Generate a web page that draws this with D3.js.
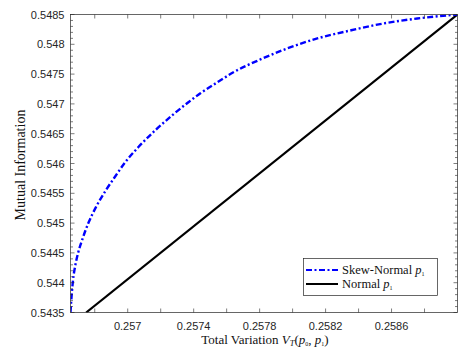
<!DOCTYPE html>
<html><head><meta charset="utf-8">
<script src="https://cdn.jsdelivr.net/npm/d3@7"></script>
<style>body{margin:0;background:#fff}svg{display:block}</style>
</head><body>
<svg id="c" width="474" height="356"></svg>
<script>
// Data
const skewX = [0.256653,0.256659,0.256668,0.256683,0.256701,0.256726,0.256762,0.256805,0.256865,0.256926,0.256986,0.257065,0.257168,0.257271,0.257368,0.257441,0.257544,0.257641,0.257805,0.257968,0.258150,0.258350,0.258550,0.258756,0.259];
const skewY = [0.5435,0.543751,0.544035,0.544303,0.544520,0.544737,0.545005,0.545256,0.545540,0.545791,0.546025,0.546276,0.546560,0.546811,0.547028,0.547179,0.547363,0.547530,0.547747,0.547931,0.548098,0.548232,0.548349,0.548433,0.5485];
const normX = [0.256748,0.259];
const normY = [0.5435,0.5485];
const xDomain = [0.256653,0.259];
const yDomain = [0.5435,0.5485];
const xMajor = [0.257,0.2574,0.2578,0.2582,0.2586];
const xMinor = [0.2568,0.2572,0.2576,0.258,0.2584,0.2588];
const yMajor = [0.5435,0.544,0.5445,0.545,0.5455,0.546,0.5465,0.547,0.5475,0.548,0.5485];
const yMinor = d3.range(0,51).map(i=>+(0.5435+i*0.0001).toFixed(4));
const legendLabels = ["Skew-Normal", "Normal"];

const svg = d3.select("#c");
const L=70.5, R=457.5, T=14.5, B=312.5;
const x = d3.scaleLinear().domain(xDomain).range([L,R]);
const y = d3.scaleLinear().domain(yDomain).range([B,T]);
const tickCol="#262626", tl=4;

svg.append("rect").attr("x",L).attr("y",T).attr("width",R-L).attr("height",B-T).attr("fill","#fff");
svg.append("clipPath").attr("id","cp").append("rect").attr("x",L).attr("y",T).attr("width",R-L).attr("height",B-T);

const g = svg.append("g").attr("clip-path","url(#cp)");
g.append("path").datum(normX.map((v,i)=>[v,normY[i]])).attr("d",d3.line().x(d=>x(d[0])).y(d=>y(d[1])))
 .attr("fill","none").attr("stroke","#000").attr("stroke-width",2.2);
g.append("path").datum(skewX.map((v,i)=>[v,skewY[i]])).attr("d",d3.line().x(d=>x(d[0])).y(d=>y(d[1])).curve(d3.curveMonotoneX))
 .attr("fill","none").attr("stroke","#0000ff").attr("stroke-width",2.4).attr("stroke-dasharray","6,2.5,2,2.5");

// ticks (inward, all four sides)
const tg = svg.append("g").attr("stroke",tickCol).attr("stroke-width",0.6);
xMajor.concat(xMinor).forEach(v=>{
  tg.append("line").attr("x1",x(v)).attr("x2",x(v)).attr("y1",B).attr("y2",B-tl);
  tg.append("line").attr("x1",x(v)).attr("x2",x(v)).attr("y1",T).attr("y2",T+tl);
});
yMinor.forEach(v=>{
  const len = yMajor.some(m=>Math.abs(m-v)<1e-9)?tl:2.5;
  tg.append("line").attr("y1",y(v)).attr("y2",y(v)).attr("x1",L).attr("x2",L+len);
  tg.append("line").attr("y1",y(v)).attr("y2",y(v)).attr("x1",R).attr("x2",R-len);
});
svg.append("rect").attr("x",L).attr("y",T).attr("width",R-L).attr("height",B-T).attr("fill","none").attr("stroke",tickCol).attr("stroke-width",0.7);

// tick labels
const font="Liberation Sans, Arial, sans-serif";
xMajor.forEach(v=>svg.append("text").attr("x",x(v)).attr("y",330).attr("text-anchor","middle")
  .attr("font-family",font).attr("font-size",11).attr("fill",tickCol).text(d3.format(".4~f")(v)));
yMajor.forEach(v=>svg.append("text").attr("x",L-6).attr("y",y(v)+4).attr("text-anchor","end")
  .attr("font-family",font).attr("font-size",11).attr("fill",tickCol).text(d3.format(".4~f")(v)));

// axis labels
const serif="Liberation Serif, Times New Roman, serif";
const xl = svg.append("text").attr("x",265).attr("y",344).attr("text-anchor","middle")
  .attr("font-family",serif).attr("font-size",13).attr("fill","#111");
xl.append("tspan").text("Total Variation ");
xl.append("tspan").attr("font-style","italic").text("V");
xl.append("tspan").attr("font-style","italic").attr("font-size",8.5).attr("dy",2).text("T");
xl.append("tspan").attr("dy",-2).text("(");
xl.append("tspan").attr("font-style","italic").text("p");
xl.append("tspan").attr("font-size",6).attr("dy",2).text("0");
xl.append("tspan").attr("dy",-2).text(", ");
xl.append("tspan").attr("font-style","italic").text("p");
xl.append("tspan").attr("font-size",6).attr("dy",2).text("1");
xl.append("tspan").attr("dy",-2).text(")");

svg.append("text").attr("transform","translate(25,165) rotate(-90)").attr("text-anchor","middle")
  .attr("font-family",serif).attr("font-size",14).attr("fill","#111").text("Mutual Information");

// legend
const lg = svg.append("g");
lg.append("rect").attr("x",303.5).attr("y",258.5).attr("width",134).attr("height",37)
  .attr("fill","#fff").attr("stroke",tickCol).attr("stroke-width",0.7);
const items=[{c:"#0000ff",d:"6,2.5,2,2.5",w:2.2},{c:"#000",d:null,w:2}];
legendLabels.forEach((lab,i)=>{
  const yy=270+i*14;
  lg.append("line").attr("x1",306).attr("x2",338).attr("y1",yy).attr("y2",yy)
    .attr("stroke",items[i].c).attr("stroke-width",items[i].w).attr("stroke-dasharray",items[i].d);
  const t=lg.append("text").attr("x",342).attr("y",yy+4.3).attr("font-family",serif).attr("font-size",12.5).attr("fill","#111");
  t.append("tspan").text(lab+" ");
  t.append("tspan").attr("font-style","italic").text("p");
  t.append("tspan").attr("font-size",6).attr("dy",2).text("1");
});
</script>
</body></html>
